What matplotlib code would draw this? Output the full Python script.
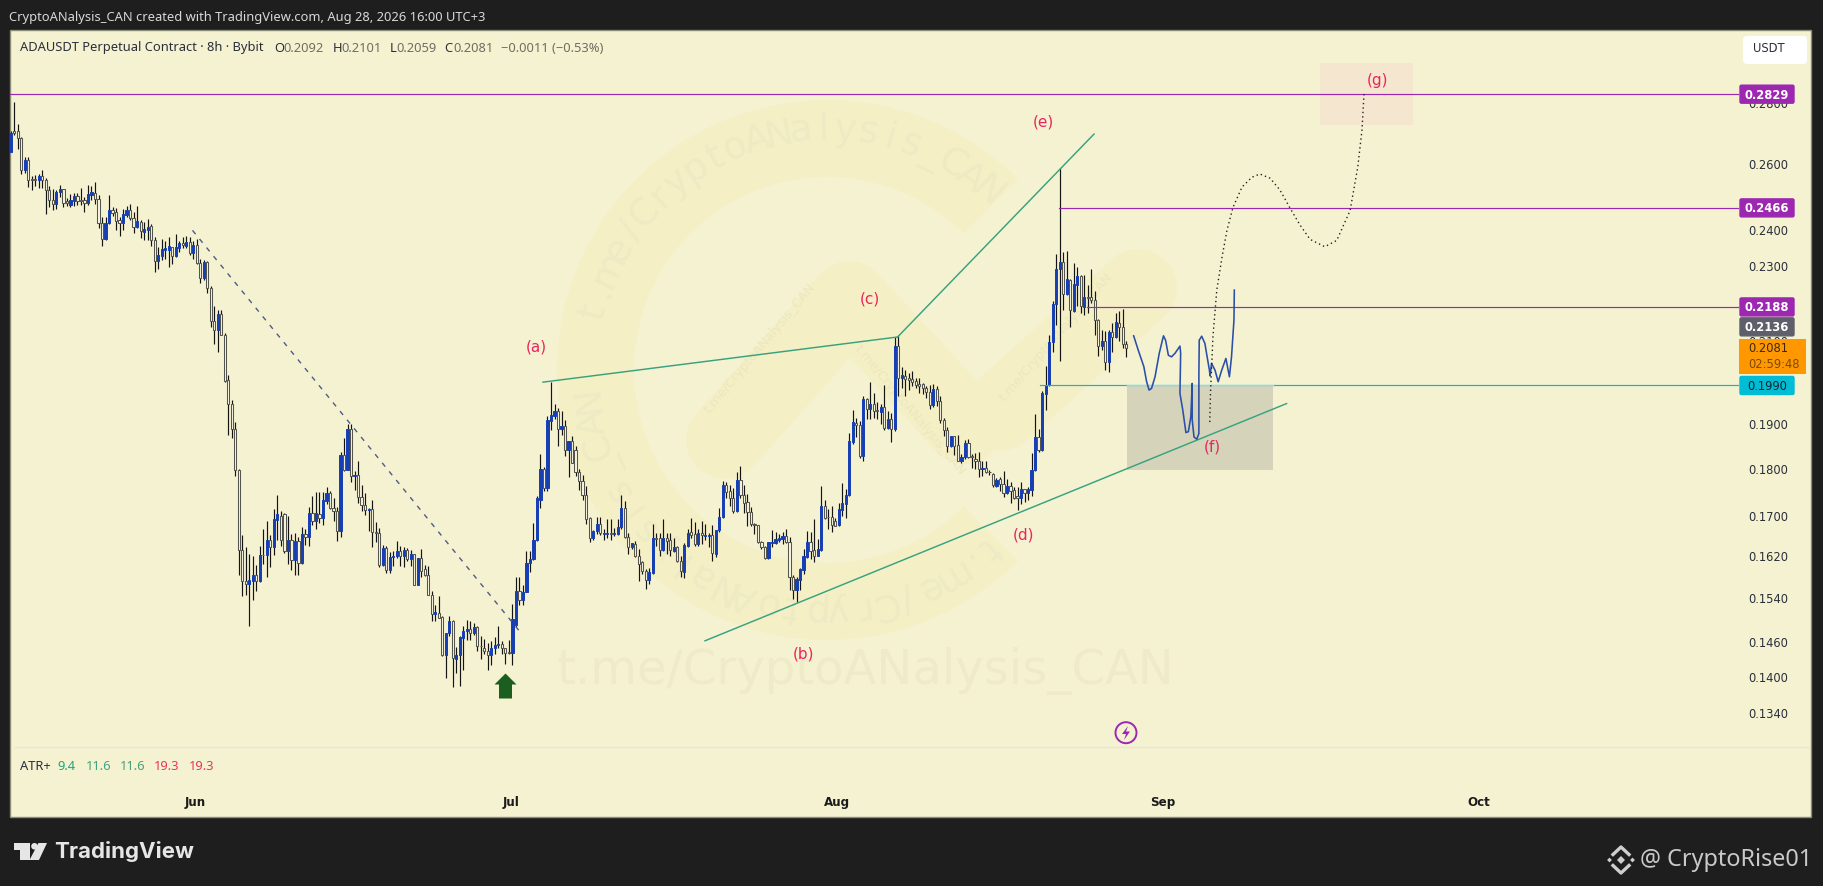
import numpy as np
import matplotlib
matplotlib.use("Agg")
import matplotlib.pyplot as plt
from matplotlib.patches import Rectangle, FancyBboxPatch, Wedge, Polygon, Circle
from matplotlib.lines import Line2D
from matplotlib.path import Path
from matplotlib.ticker import NullLocator, NullFormatter
from matplotlib.transforms import IdentityTransform

W, H = 1824, 886
# ---------- candles: prices in 1e-4 USDT, one value per 8h bar ----------
opens = [2638,2705,2705,2684,2580,2612,2554,2555,2549,2562,2549,2519,2491,2478,2515,2522,2487,2476,2487,2501,
 2489,2489,2480,2506,2512,2494,2421,2374,2421,2459,2454,2429,2421,2446,2459,2435,2410,2425,2396,2402,
 2412,2371,2313,2328,2343,2343,2353,2326,2350,2363,2354,2366,2336,2357,2307,2267,2310,2239,2151,2128,
 2170,2115,2002,1947,1887,1796,1632,1571,1566,1571,1583,1571,1622,1621,1651,1637,1692,1700,1703,1629,
 1651,1612,1650,1606,1663,1657,1706,1689,1704,1695,1731,1748,1717,1710,1669,1830,1797,1888,1783,1786,
 1739,1722,1713,1714,1668,1666,1603,1635,1592,1617,1619,1630,1620,1632,1613,1624,1564,1616,1594,1582,
 1545,1510,1512,1505,1437,1476,1498,1431,1437,1467,1479,1483,1475,1487,1453,1450,1444,1437,1449,1454,
 1456,1449,1442,1441,1490,1552,1536,1551,1606,1614,1651,1734,1800,1758,1906,1918,1929,1888,1895,1840,
 1860,1841,1793,1774,1743,1695,1655,1670,1683,1663,1663,1665,1663,1664,1677,1717,1657,1637,1644,1620,
 1607,1591,1574,1587,1656,1656,1632,1656,1651,1630,1637,1610,1588,1640,1667,1664,1643,1666,1660,1660,
 1662,1624,1672,1698,1764,1752,1737,1710,1775,1743,1728,1707,1683,1681,1647,1637,1615,1645,1645,1652,
 1653,1659,1648,1579,1555,1573,1592,1617,1648,1631,1620,1632,1721,1698,1698,1690,1681,1713,1724,1743,
 1859,1901,1897,1828,1958,1935,1947,1932,1927,1939,1890,1912,1888,2088,2009,2013,2007,2005,2000,1993,
 1993,1984,1974,1943,1982,1953,1908,1885,1849,1872,1852,1817,1826,1857,1828,1822,1817,1800,1802,1793,
 1788,1763,1778,1767,1748,1762,1755,1741,1737,1757,1747,1755,1796,1871,1841,1970,1990,2098,2195,2290,
 2311,2223,2261,2177,2247,2271,2188,2214,2214,2207,2155,2086,2100,2048,2122,2110,2147,2136,2092]
closes = [2699,2701,2683,2581,2612,2552,2552,2549,2562,2549,2520,2491,2478,2515,2522,2482,2481,2489,2501,2488,
 2487,2481,2507,2514,2494,2421,2376,2422,2459,2452,2427,2421,2447,2459,2435,2410,2426,2397,2403,2410,
 2371,2313,2329,2346,2348,2354,2326,2352,2363,2359,2366,2336,2357,2306,2267,2309,2239,2151,2128,2170,
 2115,2000,1947,1887,1796,1631,1571,1566,1574,1583,1571,1622,1621,1651,1637,1693,1703,1651,1629,1651,
 1612,1650,1606,1663,1657,1706,1689,1705,1696,1733,1748,1717,1710,1669,1830,1797,1888,1783,1786,1739,
 1722,1713,1715,1668,1666,1603,1635,1592,1617,1620,1629,1620,1632,1614,1624,1564,1616,1591,1582,1546,
 1510,1514,1503,1437,1476,1498,1432,1437,1468,1479,1483,1476,1487,1453,1452,1444,1437,1449,1455,1456,
 1449,1441,1441,1501,1553,1536,1551,1606,1614,1651,1738,1799,1758,1909,1920,1929,1887,1895,1840,1860,
 1813,1793,1774,1743,1694,1655,1670,1683,1665,1666,1665,1663,1666,1677,1717,1657,1637,1645,1620,1605,
 1591,1574,1588,1656,1653,1632,1656,1649,1632,1637,1610,1590,1642,1666,1661,1643,1666,1661,1662,1662,
 1625,1672,1698,1764,1750,1737,1710,1775,1743,1727,1707,1683,1681,1648,1637,1615,1647,1648,1653,1656,
 1659,1648,1579,1555,1575,1594,1619,1648,1630,1620,1633,1721,1696,1697,1681,1680,1714,1726,1743,1861,
 1903,1897,1828,1958,1935,1947,1929,1929,1939,1890,1912,1888,2088,2009,2015,2005,2003,1999,1992,1988,
 1984,1974,1943,1982,1953,1908,1885,1850,1872,1850,1817,1826,1857,1826,1826,1817,1800,1802,1792,1792,
 1765,1776,1767,1748,1762,1752,1738,1737,1757,1747,1756,1796,1871,1841,1971,1990,2098,2195,2290,2311,
 2223,2263,2179,2249,2271,2190,2214,2212,2207,2155,2086,2100,2048,2123,2110,2149,2136,2092,2081]
highs = [2705,2802,2729,2685,2623,2621,2562,2565,2568,2582,2557,2531,2522,2520,2534,2522,2497,2509,2512,2512,
 2525,2499,2534,2531,2544,2504,2440,2438,2506,2468,2465,2440,2463,2473,2478,2453,2473,2429,2424,2434,
 2419,2380,2353,2375,2370,2380,2353,2390,2368,2382,2385,2380,2370,2376,2319,2317,2312,2243,2190,2179,
 2181,2121,2015,1955,1903,1799,1662,1637,1624,1619,1603,1639,1674,1690,1662,1715,1744,1710,1705,1699,
 1664,1666,1658,1678,1674,1718,1742,1749,1749,1749,1760,1752,1738,1719,1836,1868,1899,1899,1794,1817,
 1765,1748,1717,1733,1687,1676,1642,1639,1627,1629,1649,1639,1637,1635,1632,1623,1616,1633,1603,1601,
 1552,1527,1544,1507,1476,1506,1500,1451,1470,1488,1500,1498,1494,1488,1470,1465,1458,1462,1469,1488,
 1461,1449,1464,1529,1580,1579,1564,1629,1629,1686,1741,1833,1803,1917,1999,1947,1936,1930,1908,1860,
 1872,1849,1798,1786,1762,1698,1672,1697,1697,1673,1694,1694,1676,1693,1743,1731,1666,1646,1649,1634,
 1610,1594,1597,1683,1666,1665,1694,1666,1665,1656,1639,1620,1646,1673,1696,1687,1674,1689,1683,1666,
 1681,1671,1717,1774,1772,1764,1758,1793,1806,1764,1745,1719,1685,1682,1649,1639,1648,1671,1667,1664,
 1667,1673,1657,1582,1579,1597,1633,1670,1667,1693,1653,1763,1734,1714,1720,1696,1727,1769,1756,1879,
 1932,1914,1906,1964,1961,1998,1972,1950,1945,1992,1929,1925,2110,2116,2036,2028,2020,2026,2007,2007,
 1996,1988,1992,1994,1988,1965,1914,1893,1873,1873,1875,1831,1864,1866,1831,1835,1836,1817,1817,1796,
 1790,1779,1781,1794,1778,1770,1760,1760,1772,1757,1760,1835,1923,1888,1977,2038,2116,2203,2333,2587,
 2337,2342,2263,2307,2296,2275,2275,2248,2290,2230,2157,2129,2125,2129,2147,2172,2178,2182,2101]
lows = [2638,2694,2649,2568,2573,2529,2520,2531,2525,2525,2448,2468,2460,2463,2499,2468,2473,2468,2473,2476,
 2476,2453,2476,2489,2478,2407,2355,2371,2419,2443,2402,2384,2400,2440,2429,2392,2407,2378,2371,2373,
 2356,2281,2290,2316,2319,2297,2304,2324,2339,2350,2348,2331,2319,2304,2253,2260,2225,2135,2091,2072,
 2115,1998,1875,1867,1784,1582,1544,1546,1488,1535,1553,1569,1605,1580,1598,1622,1652,1640,1625,1605,
 1593,1583,1582,1605,1642,1640,1682,1674,1686,1682,1724,1715,1689,1650,1658,1794,1796,1770,1755,1727,
 1710,1701,1670,1637,1648,1598,1600,1587,1587,1600,1616,1600,1598,1609,1600,1564,1563,1580,1581,1546,
 1498,1498,1503,1435,1397,1470,1382,1406,1385,1412,1464,1463,1473,1444,1430,1438,1411,1420,1438,1449,
 1438,1421,1438,1420,1487,1527,1526,1550,1588,1612,1649,1717,1751,1751,1885,1911,1850,1875,1828,1781,
 1812,1784,1755,1734,1683,1647,1651,1663,1661,1651,1655,1652,1659,1662,1673,1656,1623,1633,1617,1572,
 1585,1556,1566,1585,1640,1620,1630,1623,1620,1627,1607,1580,1577,1637,1655,1640,1640,1643,1652,1637,
 1609,1617,1668,1696,1737,1720,1706,1708,1737,1706,1680,1680,1663,1646,1633,1614,1614,1638,1643,1647,
 1643,1645,1555,1537,1532,1555,1584,1615,1614,1608,1619,1630,1694,1674,1667,1679,1680,1699,1696,1742,
 1854,1869,1824,1817,1910,1912,1914,1912,1899,1886,1888,1859,1884,1966,1984,1966,1980,1988,1984,1972,
 1969,1961,1934,1940,1941,1902,1873,1836,1847,1829,1817,1813,1820,1824,1802,1799,1781,1783,1790,1785,
 1760,1760,1752,1739,1746,1727,1735,1713,1725,1728,1733,1741,1794,1836,1839,1933,1988,2072,2142,2050,
 2181,2221,2136,2175,2190,2171,2168,2171,2198,2115,2061,2076,2028,2023,2072,2108,2100,2082,2059]

# ---------- axis labels ----------
price_ticks = [0.28,0.26,0.24,0.23,0.22,0.21,0.20,0.19,0.18,0.17,0.162,0.154,0.146,0.14,0.134]
month_labels = ["Jun","Jul","Aug","Sep","Oct"]
month_bars = [52.5,142.5,235.5,328.5,418.5]

# ---------- drawings (bar index, price) ----------
level_prices = [0.2829,0.2466,0.2188,0.1990]
level_starts = [-0.3,298.8,306.8,293.4]
level_colors = ["#9c27b0","#9c27b0","#9c27b0","#00bcd4"]
level_end = 492.4
wave_names = ["(a)","(b)","(c)","(d)","(e)","(f)","(g)"]
wave_bars = [149.7,226.1,245.0,288.7,294.5,342.4,389.5]
wave_prices = [0.2085,0.1439,0.2209,0.1662,0.2735,0.1847,0.2876]
green_x = [[151.7,252.8],[252.8,308.8],[197.9,363.7]]
green_y = [[0.1998,0.2110],[0.2110,0.2696],[0.1462,0.1947]]
dash_x = [51.8,145.8]
dash_y = [0.2400,0.1473]
hand_x = [320.1,321.4,323.0,323.8,324.5,325.2,326.2,327.4,328.6,329.2,330.0,330.9,331.9,333.3,333.5,333.3,334.1,335.0,335.7,336.4,
          336.8,336.8,337.3,338.1,338.7,338.7,338.8,339.5,340.4,341.7,341.9,342.3,343.3,344.2,345.2,346.4,347.4,348.0,348.7,348.8]
hand_y = [0.2113,0.2077,0.2036,0.1999,0.1979,0.1983,0.2011,0.2069,0.2113,0.2102,0.2064,0.2060,0.2069,0.2087,0.2069,0.1971,0.1932,0.1880,0.1882,0.1916,
          0.1995,0.1909,0.1870,0.1865,0.1878,0.2019,0.2102,0.2112,0.2094,0.2027,0.2013,0.2044,0.2027,0.1999,0.2027,0.2056,0.2011,0.2060,0.2154,0.2233]
dot_x = [341.8,342.0,342.7,343.8,345.3,346.7,348.4,351.0,353.8,356.1,359.0,361.8,364.6,367.5,370.4,374.6,378.0,381.8,384.0,385.2,385.8]
dot_y = [0.1904,0.1971,0.2110,0.2233,0.2324,0.2400,0.2467,0.2529,0.2559,0.2569,0.2556,0.2520,0.2467,0.2416,0.2374,0.2353,0.2371,0.2458,0.2591,0.2710,0.2837]
zone_grey = [318.2,359.8,0.1797,0.1990]
zone_peach = [373.2,399.7,0.2725,0.2937]
arrow_bar, arrow_price = 141.0, 0.1364

scale_boxes = [(0.2829,"0.2829","#9c27b0","#ffffff"),(0.2466,"0.2466","#9c27b0","#ffffff"),
               (0.2188,"0.2188","#9c27b0","#ffffff"),(0.2136,"0.2136","#5d606b","#ffffff"),
               (0.1990,"0.1990","#00bcd4","#10242a")]
last_price, countdown = "0.2081", "02:59:48"
atr_values = ["9.4","11.6","11.6","19.3","19.3"]
atr_colors = ["#22a37f","#3fa67f","#4c9f78","#e8365f","#e8365f"]
atr_x = [57,86,120,154,189]

CREAM, DARK = "#f5f2d2", "#1e1e1e"
fig = plt.figure(figsize=(W/100, H/100), dpi=100, facecolor=DARK)
ID = IdentityTransform()
def P(x, y):
    return (x, H - y)
def T(x, y, s, **k):
    k.setdefault("va", "center"); k.setdefault("zorder", 20)
    return fig.text(x/W, 1 - y/H, s, **k)

fig.add_artist(Rectangle(P(10, 817), 1801, 787, transform=ID, fc=CREAM, ec="#8c8b78", lw=1.0, zorder=-2))

ax = fig.add_axes([10/W, 1 - 747/H, 1801/W, 717/H], facecolor="none")
ax.set_yscale("log")
ax.set_xlim(-0.23, 513.2)
ax.set_ylim(0.1286, 0.3057)
for s in ax.spines.values():
    s.set_visible(False)
ax.yaxis.tick_right()
ax.yaxis.set_minor_locator(NullLocator()); ax.yaxis.set_minor_formatter(NullFormatter())
ax.set_yticks(price_ticks, ["%.4f" % t for t in price_ticks])
ax.tick_params(axis="y", length=0, pad=-45.4, labelsize=8.3, labelcolor="#2a2e39")
ax.set_xticks(month_bars, month_labels)
ax.tick_params(axis="x", length=0, pad=35, labelsize=8.6, labelcolor="#1b1b1b")
for t in ax.get_xticklabels():
    t.set_fontweight("bold")

# watermark (pixel placed, behind everything)
wm = "#f5efc6"; wt = "#eeeac4"
ax.add_patch(Wedge(P(827, 370), 270, 45, 315, width=77, transform=ID, fc=wm, ec="none", zorder=0.2))
for seg in [[(725, 440), (849, 300), (965, 425)], [(1000, 412), (1138, 288)]]:
    xs, ys = zip(*[P(*p) for p in seg])
    ax.add_line(Line2D(xs, ys, transform=ID, color=wm, lw=56, solid_capstyle="round", solid_joinstyle="round", zorder=0.2))
txt = "t.me/CryptoANalysis_CAN"
for a0, a1 in [(166, 48), (-48, -173)]:
    for ch, th in zip(txt, np.linspace(a0, a1, len(txt))):
        r = np.radians(th)
        x, y = 827 + 240*np.cos(r), 370 - 240*np.sin(r)
        ax.text(*P(x, y), ch, transform=ID, fontsize=27, color=wt, rotation=th-90, ha="center", va="center",
                rotation_mode="anchor", zorder=0.3, family="DejaVu Sans")
for (x, y, rot) in [(760, 348, 50), (910, 410, -50), (1056, 337, 49)]:
    ax.text(*P(x, y), txt, transform=ID, fontsize=9.3, color="#ebe7bf", rotation=rot, ha="center", va="center", zorder=0.3)
ax.text(*P(866, 671), txt, transform=ID, fontsize=34.7, color="#efebc8", ha="center", va="center", zorder=0.3)

# zones
ax.add_patch(Rectangle((zone_grey[0], zone_grey[2]), zone_grey[1]-zone_grey[0], zone_grey[3]-zone_grey[2], fc="#d6d3bb", ec="none", zorder=1))
ax.add_patch(Rectangle((zone_peach[0], zone_peach[2]), zone_peach[1]-zone_peach[0], zone_peach[3]-zone_peach[2], fc="#f5e6cf", ec="none", zorder=1))

# candles
o, c, hi, lo = [np.array(v)/1e4 for v in (opens, closes, highs, lows)]
x = np.arange(len(o))
ax.vlines(x, lo, hi, color="#141414", lw=0.85, zorder=3)
up = c >= o
ax.bar(x[up], (c-o)[up], bottom=o[up], width=0.62, color="#163fb3", edgecolor="#163fb3", lw=0.7, zorder=4)
ax.bar(x[~up], (o-c)[~up], bottom=c[~up], width=0.62, color="#f8f6de", edgecolor="#55554f", lw=0.75, zorder=4)

# lines
for px_, py_, col in zip(level_starts, level_prices, level_colors):
    ax.plot([px_, level_end], [py_, py_], color=col, lw=0.85, zorder=5)
ax.plot([zone_grey[0], zone_grey[1]], [0.1990, 0.1990], color="#8fdde4", lw=0.9, zorder=5.1)
for gx, gy in zip(green_x, green_y):
    ax.plot(gx, gy, color="#38a27e", lw=1.05, zorder=6)
ax.plot(dash_x, dash_y, color="#4f5a86", lw=1.0, ls=(0, (3.5, 4.5)), zorder=6)
ax.plot(hand_x, hand_y, color="#2a4fa8", lw=1.15, zorder=6, solid_joinstyle="round")
ax.plot(dot_x, dot_y, color="#222222", lw=1.0, ls=(0, (1, 2.2)), zorder=6)
for n, bx, by in zip(wave_names, wave_bars, wave_prices):
    ax.text(bx, by, n, color="#e8265e", fontsize=11, ha="center", va="center", zorder=7)

arrow = Path([(-11, 14), (0, 25), (11, 14), (6.5, 14), (6.5, 0), (-6.5, 0), (-6.5, 14), (-11, 14)])
ax.plot([arrow_bar], [arrow_price], marker=arrow, ms=36, color="#1b5e20", mec="none", zorder=7, ls="none")

# price scale boxes (over the tick labels)
ax.figure.canvas.draw()
def ypx(p):
    return H - ax.transData.transform((0, p))[1]
for p, s, bg, fg in scale_boxes:
    yy = ypx(p)
    fig.add_artist(FancyBboxPatch(P(1740, yy+9), 54, 18, boxstyle="round,pad=0,rounding_size=1.5", transform=ID, fc=bg, ec=bg, lw=1, zorder=15))
    T(1767, yy+1, s, color=fg, fontsize=8.3, ha="center", fontweight="bold" if fg == "#ffffff" else "normal")
fig.add_artist(Rectangle(P(1739, 374), 67, 35, transform=ID, fc="#ff9800", ec="none", zorder=15))
T(1748, 349, last_price, color="#3a2a10", fontsize=8.3)
T(1748, 365, countdown, color="#7a4a06", fontsize=8.3)
fig.add_artist(FancyBboxPatch(P(1745, 62), 60, 24, boxstyle="round,pad=2,rounding_size=4", transform=ID, fc="#ffffff", ec="none", zorder=15))
T(1753, 49, "USDT", color="#2a2e39", fontsize=8.3)

# chrome text
T(9, 17, "CryptoANalysis_CAN created with TradingView.com, Aug 28, 2026 16:00 UTC+3", color="#d8d8d8", fontsize=9.3, family="Noto Sans")
k = dict(fontsize=9.3, family="Noto Sans")
T(20, 48, "ADAUSDT Perpetual Contract · 8h · Bybit", color="#2a2e39", **k)
for lx, vx, l_, v_ in [(274, 283, "O", "0.2092"), (333, 341, "H", "0.2101"), (390, 396, "L", "0.2059"), (444, 453, "C", "0.2081")]:
    T(lx, 48, l_, color="#2a2e39", **k)
    T(vx, 48, v_, color="#6e6e62", **k)
T(501, 48, "−0.0011 (−0.53%)", color="#6e6e62", **k)
T(20, 766, "ATR+", color="#2a2e39", **k)
for ax_, v_, col in zip(atr_x, atr_values, atr_colors):
    T(ax_, 766, v_, color=col, **k)
fig.add_artist(Line2D([15, 1808], [H-747, H-747], transform=ID, color="#e7e5d6", lw=1, zorder=2))

# lightning icon
fig.add_artist(Circle(P(1126, 732.7), 10.5, transform=ID, fc="none", ec="#9c27b0", lw=1.4, zorder=15))
fig.add_artist(Polygon([P(1128, 726), P(1122, 734), P(1126, 734), P(1124, 740), P(1130, 731.5), P(1126, 731.5)], transform=ID, fc="#9c27b0", ec="none", zorder=15))

# footer: TradingView logo and text
lg = "#e6e6e6"
fig.add_artist(Polygon([P(13.5, 843), P(30, 843), P(30, 860), P(20, 860), P(20, 849.5), P(13.5, 849.5)], transform=ID, fc=lg, ec="none", zorder=15))
fig.add_artist(Circle(P(34.5, 846.3), 3.3, transform=ID, fc=lg, ec="none", zorder=15))
fig.add_artist(Polygon([P(38.5, 843), P(47, 843), P(39, 860), P(29.5, 860)], transform=ID, fc=lg, ec="none", zorder=15))
T(54, 851.5, "TradingView", color=lg, fontsize=16, family="Inter", fontweight="bold")

bn = "#cfcfcf"; cx, cy = 1621, 860
def dia(x0, y0, r):
    fig.add_artist(Polygon([P(x0, y0-r), P(x0+r, y0), P(x0, y0+r), P(x0-r, y0)], transform=ID, fc=bn, ec="none", zorder=15))
dia(cx, cy, 4); dia(cx-11.5, cy, 2.4); dia(cx+11.5, cy, 2.4)
for sgn in (-1, 1):
    pts = [P(cx-8, cy+sgn*5.5), P(cx, cy+sgn*13), P(cx+8, cy+sgn*5.5)]
    xs, ys = zip(*pts)
    fig.add_artist(Line2D(xs, ys, transform=ID, color=bn, lw=2.4, zorder=15))
T(1640, 860, "@ CryptoRise01", color="#c9c9c9", fontsize=16.8, family="Noto Sans")

fig.savefig("out.png", dpi=100, facecolor=DARK)
